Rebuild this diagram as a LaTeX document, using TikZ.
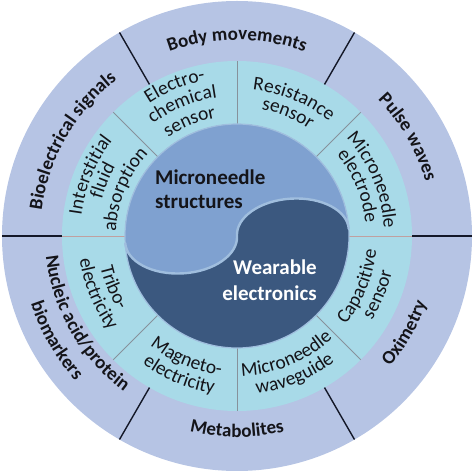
\documentclass[tikz,border=0pt]{standalone}
\usepackage{fontspec}
\setmainfont{Carlito}
\usetikzlibrary{decorations.text}
\definecolor{outerring}{RGB}{182,196,228}
\definecolor{midring}{RGB}{168,218,232}
\definecolor{lightcore}{RGB}{127,161,208}
\definecolor{darkcore}{RGB}{59,88,127}
\definecolor{scurve}{RGB}{160,190,222}
\definecolor{outerline}{RGB}{20,24,40}
\definecolor{midline}{RGB}{135,145,155}
\definecolor{midlineh}{RGB}{192,160,160}
\definecolor{txt}{RGB}{20,20,25}
\newcommand\lblbold{\bfseries\fontsize{19}{22}\selectfont\color{txt}}
\newcommand\lblreg{\fontsize{19.5}{22}\selectfont\color{txt}}
% clockwise arc text (tops outward): angle, radius, font, text
\newcommand\cwtext[4]{\path[decorate,decoration={text along path,text={|#3|#4},text align=center}]
  ({#1+60}:#2) arc[start angle={#1+60},end angle={#1-60},radius=#2pt];}
% counter-clockwise arc text (tops inward)
\newcommand\ccwtext[4]{\path[decorate,decoration={text along path,text={|#3|#4},text align=center}]
  ({#1-60}:#2) arc[start angle={#1-60},end angle={#1+60},radius=#2pt];}
\tikzset{
  corelabel/.style={inner sep=0pt,font=\bfseries\fontsize{21}{24}\selectfont,text=txt},
  outerdiv/.style={draw=outerline,line width=1.4pt},
  middiv/.style={draw=midline,line width=0.8pt},
  middivh/.style={draw=midlineh,line width=0.8pt}
}
\begin{document}
\begin{tikzpicture}[x=1pt,y=1pt]
\useasboundingbox (-237,-235) rectangle (237,236);
% rings
\fill[outerring] (0,0) circle[radius=235pt];
\fill[midring] (0,0) circle[radius=175pt];
\foreach \a in {0,60,120,180,240,300} \draw[outerdiv] (\a:175) -- (\a:235);
\foreach \a in {45,90,135,225,270,315} \draw[middiv] (\a:112) -- (\a:175);
\foreach \a in {0,180} \draw[middivh] (\a:112) -- (\a:175);
% core yin-yang
\begin{scope}[rotate=3.5]
  \fill[darkcore] (0,0) circle[radius=112pt];
  \fill[lightcore] (-112,0) arc[start angle=180,end angle=360,x radius=56pt,y radius=34pt]
     arc[start angle=180,end angle=0,x radius=56pt,y radius=34pt]
     arc[start angle=0,end angle=180,radius=112pt] -- cycle;
  \draw[scurve,line width=2.4pt] (-112,0) arc[start angle=180,end angle=360,x radius=56pt,y radius=34pt]
     arc[start angle=180,end angle=0,x radius=56pt,y radius=34pt];
\end{scope}
\draw[scurve,line width=1.2pt] (0,0) circle[radius=112pt];
% core labels
\node[corelabel,anchor=base west] (ms1) at (-82,51.3) {Microneedle};
\node[corelabel,anchor=base west] (ms2) at (-82,27.3) {structures};
\node[corelabel,text=white,anchor=base east] (we1) at (80,-38.7) {Wearable};
\node[corelabel,text=white,anchor=base east] (we2) at (80,-64.7) {electronics};
% outer ring labels
\cwtext{90}{196}{\lblbold}{Body movements}
\cwtext{30}{196}{\lblbold}{Pulse waves}
\cwtext{150}{197}{\lblbold}{Bioelectrical signals}
\ccwtext{-30}{201}{\lblbold}{Oximetry}
\ccwtext{-90}{201}{\lblbold}{Metabolites}
\ccwtext{210}{192}{\lblbold}{Nucleic acid/protein}
\ccwtext{210}{217}{\lblbold}{biomarkers}
% middle ring labels
\cwtext{112.5}{159}{\lblreg}{Electro-}
\cwtext{112.5}{140}{\lblreg}{chemical}
\cwtext{112.5}{120}{\lblreg}{sensor}
\cwtext{67.5}{147}{\lblreg}{Resistance}
\cwtext{67.5}{129}{\lblreg}{sensor}
\cwtext{22.5}{147}{\lblreg}{Microneedle}
\cwtext{22.5}{129}{\lblreg}{electrode}
\cwtext{157.5}{157}{\lblreg}{Interstitial}
\cwtext{157.5}{140}{\lblreg}{fluid}
\cwtext{157.5}{121}{\lblreg}{absorption}
\ccwtext{-22.5}{140}{\lblreg}{Capacitive}
\ccwtext{-22.5}{159}{\lblreg}{sensor}
\ccwtext{-67.5}{140}{\lblreg}{Microneedle}
\ccwtext{-67.5}{159}{\lblreg}{waveguide}
\ccwtext{-112.5}{140}{\lblreg}{Magneto-}
\ccwtext{-112.5}{159}{\lblreg}{electricity}
\ccwtext{-157.5}{140}{\lblreg}{Tribo-}
\ccwtext{-157.5}{159}{\lblreg}{electricity}
\end{tikzpicture}
\end{document}
